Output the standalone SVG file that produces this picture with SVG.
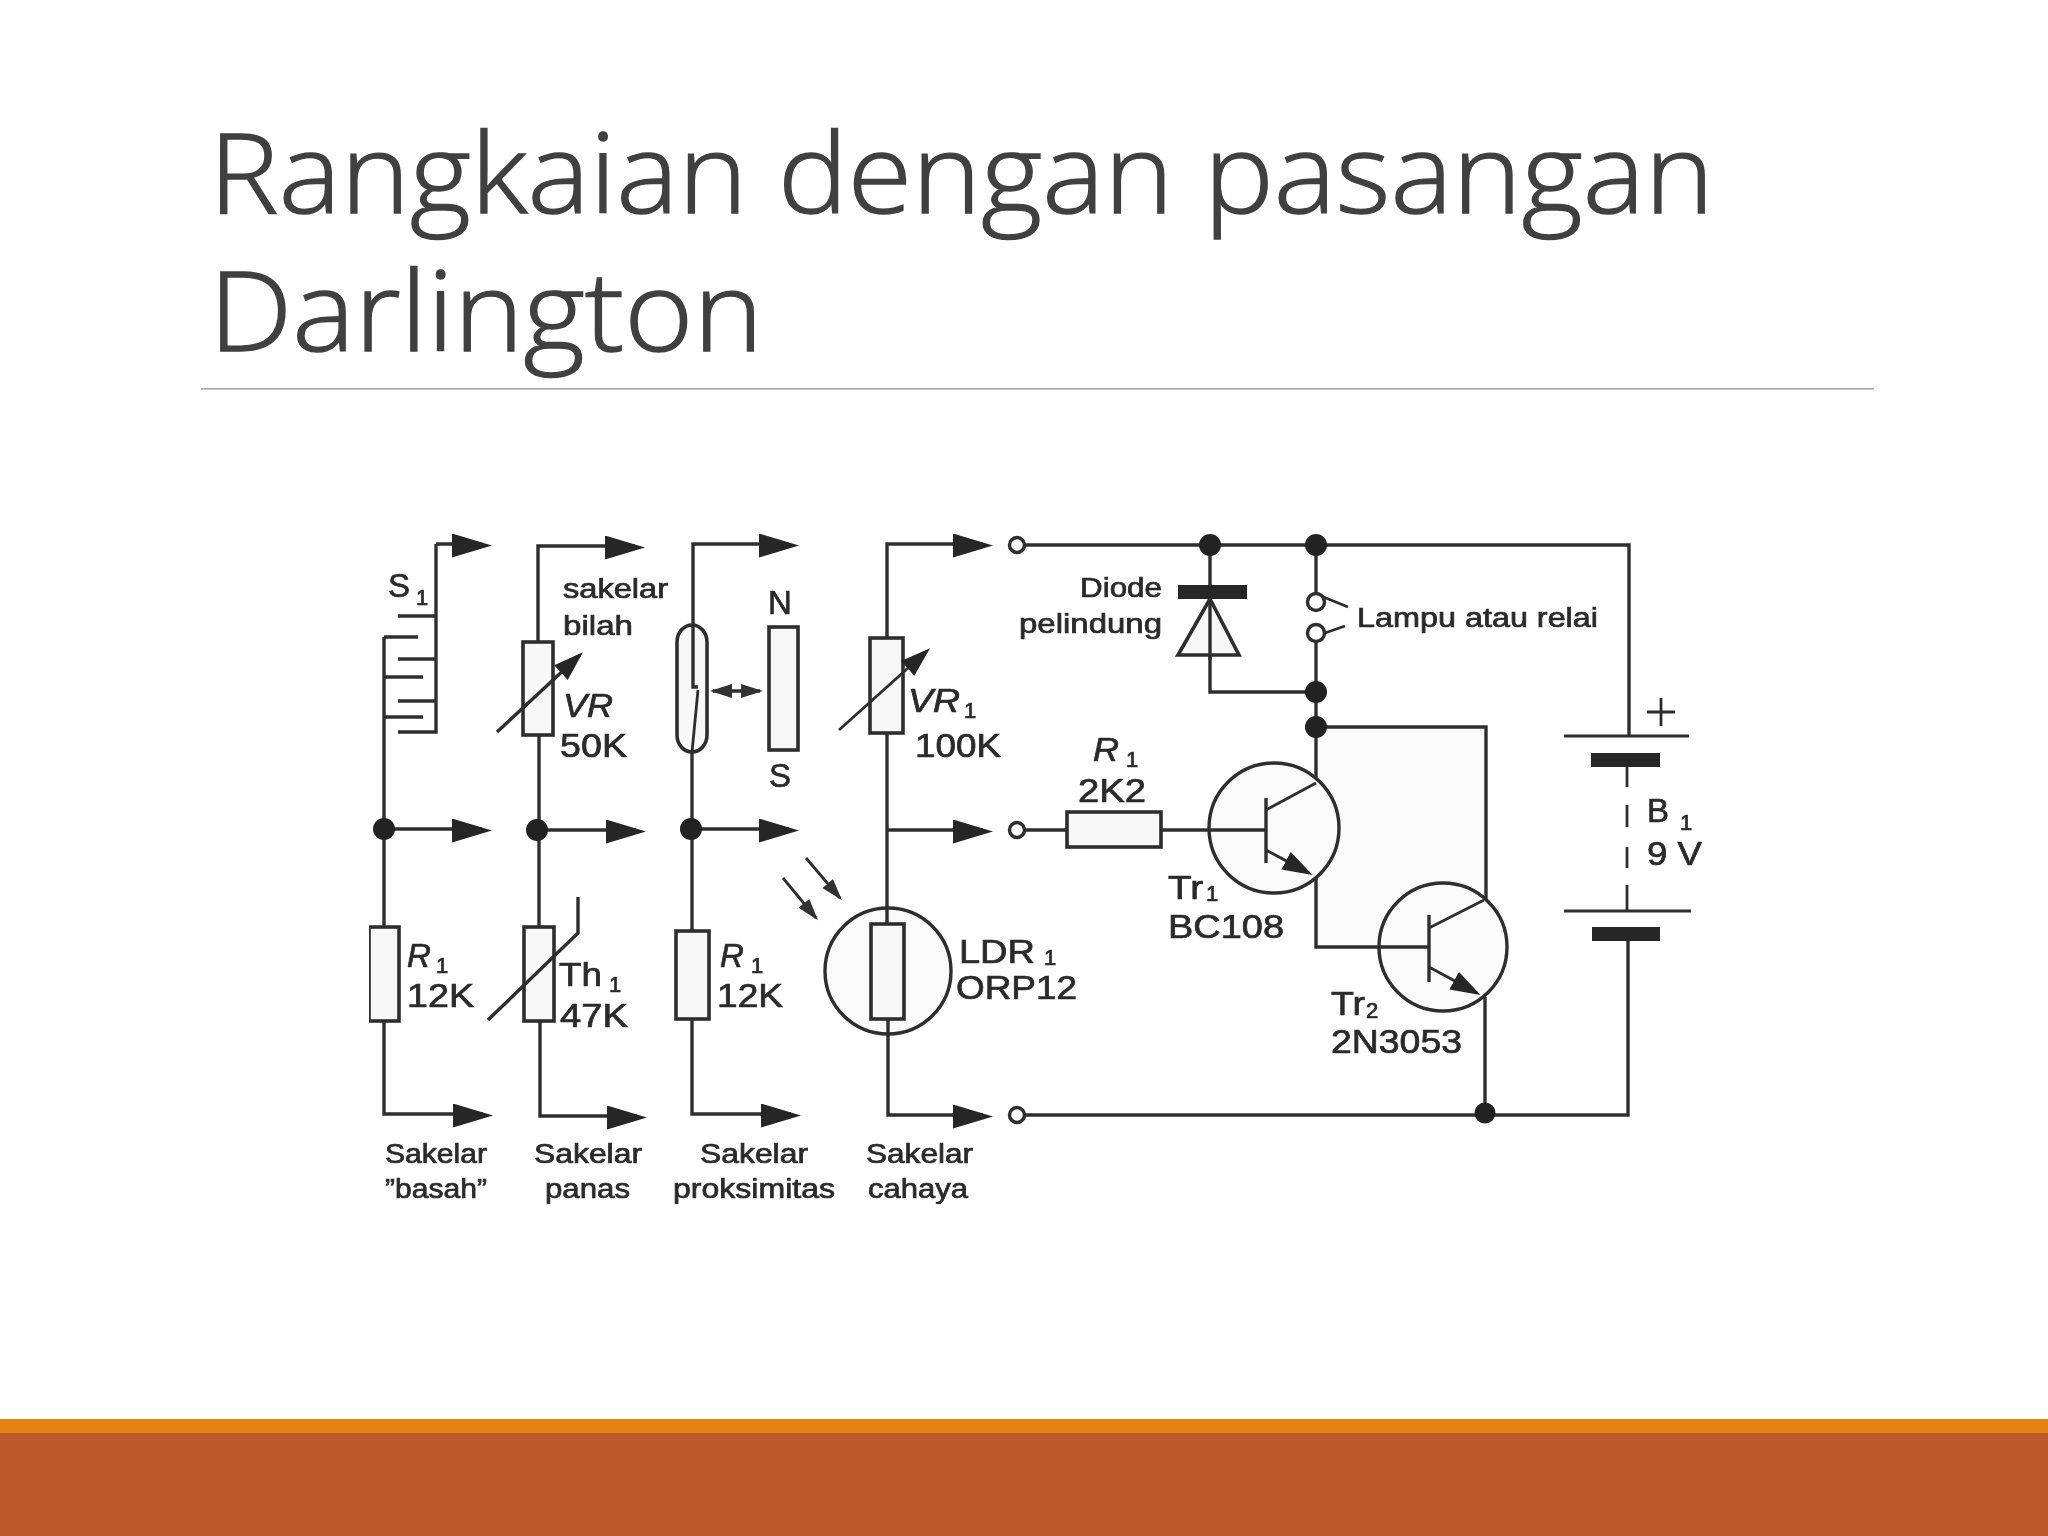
<svg xmlns="http://www.w3.org/2000/svg" width="2048" height="1536" viewBox="0 0 2048 1536">
<defs>
<filter id="soft" x="0" y="0" width="100%" height="100%"><feGaussianBlur stdDeviation="0.55"/></filter>
<marker id="big" markerUnits="userSpaceOnUse" markerWidth="42" markerHeight="26" refX="30" refY="10.5" orient="auto"><path d="M0 0L40 12L0 24Z" fill="#262626"/></marker>
<marker id="med" markerUnits="userSpaceOnUse" markerWidth="34" markerHeight="24" refX="26" refY="10" orient="auto"><path d="M0 0L30 10L0 20Z" fill="#262626"/></marker>
<marker id="small" markerUnits="userSpaceOnUse" markerWidth="26" markerHeight="18" refX="19" refY="7" orient="auto-start-reverse"><path d="M0 0L22 7L0 14Z" fill="#333"/></marker>
</defs>
<style>
.w{fill:none;stroke:#2e2e2e;stroke-width:3.4;stroke-linejoin:miter}
.t{fill:none;stroke:#2e2e2e;stroke-width:2.8}
.b{fill:#f8f8f8;stroke:#2e2e2e;stroke-width:3.6}
.c{fill:#fafafa;stroke:#2e2e2e;stroke-width:3.4}
.o{fill:#fff;stroke:#2e2e2e;stroke-width:3.4}
.d{fill:#222}
.p{fill:#262626}
text{font-family:"Liberation Sans",Arial,sans-serif;fill:#2b2b2b;stroke:#2b2b2b;stroke-width:.7}
.l{font-size:33px}
.m{font-size:27px}
.s{font-size:22px}
.i{font-style:italic}
.title{font-family:"Open Sans","Noto Sans",sans-serif;font-weight:300;font-size:110px;fill:#404040;stroke:#404040;stroke-width:1.4}
</style>
<rect width="2048" height="1536" fill="#fff"/>
<g id="slide-title">
<text class="title" x="209" y="213" textLength="1505" lengthAdjust="spacingAndGlyphs">Rangkaian dengan pasangan</text>
<text class="title" x="209" y="351" textLength="554" lengthAdjust="spacingAndGlyphs">Darlington</text>
<rect x="201" y="388" width="1673" height="1.6" fill="#a6a6a6"/>
</g>
<g id="footer-bars">
<rect y="1419" width="2048" height="14" fill="#e48312"/>
<rect y="1433" width="2048" height="103" fill="#bd582c"/>
</g>
<g id="circuit" filter="url(#soft)">
<path id="shade" d="M1320 727H1485V900L1385 930 1378 947H1316V880Z" fill="#fafafa"/>
<g id="connectors">
<path class="w" d="M436 544H482" marker-end="url(#big)"/>
<path class="w" d="M384 637V927"/>
<path class="w" d="M384 829H482" marker-end="url(#big)"/>
<path class="w" d="M384 1021V1114H483" marker-end="url(#big)"/>
<path class="w" d="M538 642V546H635" marker-end="url(#big)"/>
<path class="w" d="M539 735V927"/>
<path class="w" d="M537 830H636" marker-end="url(#big)"/>
<path class="w" d="M540 1021V1116H637" marker-end="url(#big)"/>
<path class="w" d="M693 625V544H789" marker-end="url(#big)"/>
<path class="w" d="M692 752V931"/>
<path class="w" d="M691 829H789" marker-end="url(#big)"/>
<path class="w" d="M692 1019V1114H791" marker-end="url(#big)"/>
<path class="w" d="M887 638V544H983" marker-end="url(#big)"/>
<path class="w" d="M887 733V924"/>
<path class="w" d="M888 830H983" marker-end="url(#big)"/>
<path class="w" d="M888 1019V1115H983" marker-end="url(#big)"/>
<path class="w" d="M1025 545H1629V736"/>
<path class="w" d="M1025 830H1067"/>
<path class="w" d="M1161 830H1266"/>
<path class="w" d="M1025 1115H1628V941"/>
<path class="w" d="M1210 545V692H1316"/>
<path class="w" d="M1316 545V593"/>
<path class="w" d="M1316 642V783"/>
<path class="w" d="M1316 727H1486V900"/>
<path class="w" d="M1316 877V947H1429"/>
<path class="w" d="M1485 997V1115"/>
<path class="t" d="M1321 596L1348 607"/>
<path class="t" d="M1325 633L1345 626"/>
</g>
<g id="junctions">
<circle class="d" cx="384" cy="829" r="11"/>
<circle class="d" cx="537" cy="830" r="11"/>
<circle class="d" cx="691" cy="829" r="11"/>
<circle class="d" cx="1210" cy="545" r="11"/>
<circle class="d" cx="1316" cy="545" r="11"/>
<circle class="d" cx="1316" cy="692" r="11"/>
<circle class="d" cx="1316" cy="727" r="11"/>
<circle class="d" cx="1485" cy="1113" r="10.5"/>
</g>
<g id="terminals">
<circle class="o" cx="1017" cy="545" r="7.5"/>
<circle class="o" cx="1017" cy="830" r="7.5"/>
<circle class="o" cx="1017" cy="1115" r="7.5"/>
</g>
<g id="S1">
<path class="w" d="M436 544V732H398M398 616H436M398 659H436M398 701H436"/>
<path class="w" d="M418 637H384M384 677H423M384 717H423"/>
<text class="l" x="388" y="597">S</text><text class="s" x="416" y="605">1</text>
</g>
<g id="R1-a">
<rect class="b" x="369" y="927" width="30" height="94"/>
<text class="l i" x="407" y="967">R</text><text class="s" x="436" y="973">1</text>
<text class="l" x="407" y="1007" textLength="67" lengthAdjust="spacingAndGlyphs">12K</text>
</g>
<g id="VR">
<text class="m" x="563" y="598" textLength="105" lengthAdjust="spacingAndGlyphs">sakelar</text>
<text class="m" x="563" y="635" textLength="70" lengthAdjust="spacingAndGlyphs">bilah</text>
<rect class="b" x="523" y="642" width="30" height="93"/>
<path class="w" d="M497 732L580 655" marker-end="url(#med)"/>
<text class="l i" x="563" y="717" textLength="50" lengthAdjust="spacingAndGlyphs">VR</text>
<text class="l" x="560" y="757" textLength="67" lengthAdjust="spacingAndGlyphs">50K</text>
</g>
<g id="Th1">
<rect class="b" x="524" y="927" width="30" height="94"/>
<path class="w" d="M488 1020L578 933V897"/>
<text class="l" x="559" y="986" textLength="43" lengthAdjust="spacingAndGlyphs">Th</text><text class="s" x="609" y="992">1</text>
<text class="l" x="560" y="1027" textLength="68" lengthAdjust="spacingAndGlyphs">47K</text>
</g>
<g id="reed-switch">
<rect class="b" x="677" y="625" width="30" height="127" rx="15" ry="17"/>
<path class="w" d="M693 625V687H698"/>
<path class="t" d="M692 752L698 690"/>
</g>
<g id="magnet">
<path class="w" d="M713 691H760" marker-start="url(#small)" marker-end="url(#small)"/>
<rect class="b" x="769" y="627" width="29" height="123"/>
<text class="l" x="780" y="614" text-anchor="middle">N</text>
<text class="l" x="780" y="787" text-anchor="middle">S</text>
</g>
<g id="R1-c">
<rect class="b" x="676" y="931" width="33" height="88"/>
<text class="l i" x="720" y="967">R</text><text class="s" x="751" y="973">1</text>
<text class="l" x="717" y="1007" textLength="66" lengthAdjust="spacingAndGlyphs">12K</text>
</g>
<g id="VR1">
<rect class="b" x="870" y="638" width="33" height="95"/>
<path class="t" d="M839 730L927 651" marker-end="url(#med)"/>
<text class="l i" x="908" y="712" textLength="52" lengthAdjust="spacingAndGlyphs">VR</text><text class="s" x="964" y="718">1</text>
<text class="l" x="915" y="757" textLength="86" lengthAdjust="spacingAndGlyphs">100K</text>
</g>
<g id="LDR1">
<path class="t" d="M806 858L840 898" marker-end="url(#small)"/>
<path class="t" d="M783 878L816 918" marker-end="url(#small)"/>
<circle class="c" cx="888" cy="971" r="63"/>
<rect class="b" x="871" y="924" width="33" height="95"/>
<path class="w" d="M887 908V924M888 1019V1034"/>
<text class="l" x="959" y="963" textLength="76" lengthAdjust="spacingAndGlyphs">LDR</text><text class="s" x="1044" y="965">1</text>
<text class="l" x="956" y="999" textLength="121" lengthAdjust="spacingAndGlyphs">ORP12</text>
</g>
<g id="R1-b">
<rect class="b" x="1067" y="812" width="94" height="35"/>
<text class="l i" x="1093" y="761" textLength="26" lengthAdjust="spacingAndGlyphs">R</text><text class="s" x="1126" y="767">1</text>
<text class="l" x="1078" y="802" textLength="68" lengthAdjust="spacingAndGlyphs">2K2</text>
</g>
<g id="diode">
<path class="b" d="M1210 599L1178 655H1239Z" stroke-width="3"/>
<path class="w" d="M1210 590V660"/>
<rect class="p" x="1178" y="585" width="69" height="14"/>
<text class="m" x="1080" y="597" textLength="82" lengthAdjust="spacingAndGlyphs">Diode</text>
<text class="m" x="1019" y="633" textLength="143" lengthAdjust="spacingAndGlyphs">pelindung</text>
</g>
<g id="lamp">
<circle class="o" cx="1316" cy="602" r="8.5"/>
<circle class="o" cx="1316" cy="633" r="8.5"/>
<text class="m" x="1357" y="627" textLength="241" lengthAdjust="spacingAndGlyphs">Lampu atau relai</text>
</g>
<g id="Tr1">
<circle class="c" cx="1274" cy="828" r="65"/>
<path class="w" d="M1208 830H1266"/>
<path class="w" d="M1266 798V863"/>
<path class="t" d="M1266 810L1316 783"/>
<path class="t" d="M1266 850L1309 873" marker-end="url(#med)"/>
<text class="l" x="1168" y="899" textLength="35" lengthAdjust="spacingAndGlyphs">Tr</text><text class="s" x="1206" y="901">1</text>
<text class="l" x="1168" y="938" textLength="116" lengthAdjust="spacingAndGlyphs">BC108</text>
</g>
<g id="Tr2">
<circle class="c" cx="1443" cy="947" r="64"/>
<path class="w" d="M1379 947H1429"/>
<path class="w" d="M1429 915V982"/>
<path class="t" d="M1429 928L1484 900"/>
<path class="t" d="M1429 967L1477 993" marker-end="url(#med)"/>
<text class="l" x="1331" y="1015" textLength="34" lengthAdjust="spacingAndGlyphs">Tr</text><text class="s" x="1366" y="1018">2</text>
<text class="l" x="1331" y="1053" textLength="131" lengthAdjust="spacingAndGlyphs">2N3053</text>
</g>
<g id="B1">
<path class="t" d="M1564 736H1689M1564 911H1691"/>
<rect class="p" x="1591" y="753" width="69" height="14"/>
<rect class="p" x="1592" y="927" width="68" height="14"/>
<path class="t" d="M1627 767V787M1627 805V827M1627 847V868M1627 885V911" stroke-width="3"/>
<path class="t" d="M1661 698V726M1647 712H1675" stroke-width="3"/>
<text class="l" x="1647" y="822">B</text><text class="s" x="1680" y="830">1</text>
<text class="l" x="1647" y="865" textLength="55" lengthAdjust="spacingAndGlyphs">9 V</text>
</g>
<g id="caption-basah">
<text class="m" x="385" y="1163" textLength="102" lengthAdjust="spacingAndGlyphs">Sakelar</text>
<text class="m" x="385" y="1198" textLength="102" lengthAdjust="spacingAndGlyphs">”basah”</text>
</g>
<g id="caption-panas">
<text class="m" x="534" y="1163" textLength="108" lengthAdjust="spacingAndGlyphs">Sakelar</text>
<text class="m" x="545" y="1198" textLength="85" lengthAdjust="spacingAndGlyphs">panas</text>
</g>
<g id="caption-proksimitas">
<text class="m" x="700" y="1163" textLength="108" lengthAdjust="spacingAndGlyphs">Sakelar</text>
<text class="m" x="673" y="1198" textLength="162" lengthAdjust="spacingAndGlyphs">proksimitas</text>
</g>
<g id="caption-cahaya">
<text class="m" x="866" y="1163" textLength="107" lengthAdjust="spacingAndGlyphs">Sakelar</text>
<text class="m" x="868" y="1198" textLength="100" lengthAdjust="spacingAndGlyphs">cahaya</text>
</g>
</g>
</svg>
